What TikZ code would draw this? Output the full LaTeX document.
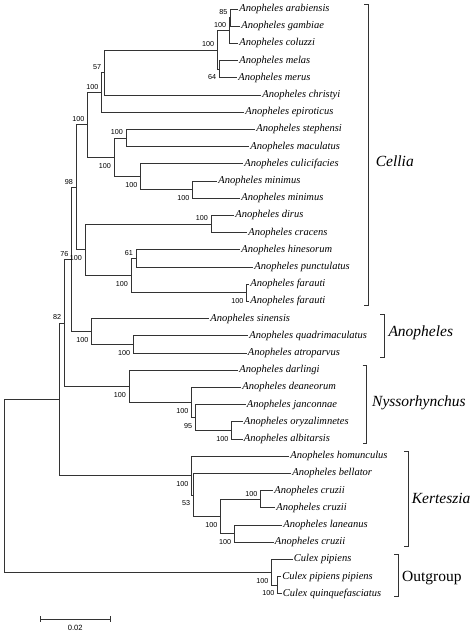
\documentclass[tikz,border=0pt]{standalone}
\usepackage{fontspec}
\setmainfont{Liberation Serif}
\newfontfamily\bootfont{Liberation Sans}
\usepackage{tikz}

\tikzset{
  branch/.style={draw=black!80, line width=0.8pt},
  taxon/.style={anchor=west, inner sep=1.2pt, text height=7pt, text depth=2.2pt, font=\fontsize{10.5}{12}\selectfont\itshape},
  bootup/.style={anchor=east, inner sep=0pt, xshift=-3pt, yshift=5.5pt, font=\bootfont\fontsize{7.2}{8}\selectfont},
  bootdn/.style={anchor=east, inner sep=0pt, xshift=-3pt, yshift=-8.3pt, font=\bootfont\fontsize{7.2}{8}\selectfont},
  clade/.style={draw=black!80, line width=0.8pt},
  cladename/.style={anchor=west, inner sep=0pt, text height=10.5pt, text depth=0pt, font=\fontsize{15.5}{18}\selectfont\itshape}
}

\begin{document}
\begin{tikzpicture}[x=1pt,y=-1pt]
\useasboundingbox (0,0) rectangle (474,635);
\node[taxon] (s1) at (238,9) {Anopheles arabiensis};
\node[taxon] (s2) at (240,26.2) {Anopheles gambiae};
\node[taxon] (s3) at (238,43.4) {Anopheles coluzzi};
\node[taxon] (s4) at (238,60.6) {Anopheles melas};
\node[taxon] (s5) at (237,77.8) {Anopheles merus};
\node[taxon] (s6) at (261,95) {Anopheles christyi};
\node[taxon] (s7) at (244,112.2) {Anopheles epiroticus};
\node[taxon] (s8) at (255,129.4) {Anopheles stephensi};
\node[taxon] (s9) at (249,146.6) {Anopheles maculatus};
\node[taxon] (s10) at (243,163.8) {Anopheles culicifacies};
\node[taxon] (s11) at (217,181) {Anopheles minimus};
\node[taxon] (s12) at (240,198.2) {Anopheles minimus};
\node[taxon] (s13) at (234,215.4) {Anopheles dirus};
\node[taxon] (s14) at (247,232.6) {Anopheles cracens};
\node[taxon] (s15) at (240,249.8) {Anopheles hinesorum};
\node[taxon] (s16) at (253,267) {Anopheles punctulatus};
\node[taxon] (s17) at (249,284.2) {Anopheles farauti};
\node[taxon] (s18) at (249,301.4) {Anopheles farauti};
\node[taxon] (s19) at (209,318.6) {Anopheles sinensis};
\node[taxon] (s20) at (248,335.8) {Anopheles quadrimaculatus};
\node[taxon] (s21) at (246.5,353) {Anopheles atroparvus};
\node[taxon] (s22) at (238,370.2) {Anopheles darlingi};
\node[taxon] (s23) at (241,387.4) {Anopheles deaneorum};
\node[taxon] (s24) at (245.5,404.6) {Anopheles janconnae};
\node[taxon] (s25) at (242.5,421.8) {Anopheles oryzalimnetes};
\node[taxon] (s26) at (242.5,439) {Anopheles albitarsis};
\node[taxon] (s27) at (289,456.2) {Anopheles homunculus};
\node[taxon] (s28) at (291,473.4) {Anopheles bellator};
\node[taxon] (s29) at (273,490.6) {Anopheles cruzii};
\node[taxon] (s30) at (275,507.8) {Anopheles cruzii};
\node[taxon] (s31) at (282,525) {Anopheles laneanus};
\node[taxon] (s32) at (273.5,542.2) {Anopheles cruzii};
\node[taxon] (s33) at (292.5,559.4) {Culex pipiens};
\node[taxon] (s34) at (281,576.6) {Culex pipiens pipiens};
\node[taxon] (s35) at (281.5,593.8) {Culex quinquefasciatus};
\coordinate (gam4) at (230.7,17.6);
\coordinate (gam2) at (229.3,30.5);
\coordinate (gam3) at (219.3,69.2);
\coordinate (gam1) at (217.3,49.9);
\coordinate (cel3) at (104.3,72.4);
\coordinate (cel4) at (101.7,92.3);
\coordinate (cel6) at (126,138);
\coordinate (cel8) at (192.7,189.6);
\coordinate (cel7) at (140.7,176.7);
\coordinate (cel5) at (114,157.4);
\coordinate (cel2) at (87.7,124.8);
\coordinate (cel9) at (211,224);
\coordinate (cel11) at (136,258.4);
\coordinate (cel12) at (246.7,292.8);
\coordinate (cel10) at (131,275.6);
\coordinate (celb) at (85,249.8);
\coordinate (cel1) at (76,187.3);
\coordinate (ano2) at (133.3,344.4);
\coordinate (ano1) at (91.7,331.5);
\coordinate (celano) at (71.7,259.4);
\coordinate (nys4) at (231.7,430.4);
\coordinate (nys3) at (195.3,417.5);
\coordinate (nys2) at (191.7,402.5);
\coordinate (nys1) at (129,386.3);
\coordinate (cny) at (64.3,322.9);
\coordinate (ker5) at (260.7,499.2);
\coordinate (ker4) at (234.3,533.6);
\coordinate (ker3) at (220.7,516.4);
\coordinate (ker2) at (193.3,494.9);
\coordinate (ker1) at (191.7,475.6);
\coordinate (ingroup) at (59.3,399.2);
\coordinate (out2) at (277.7,585.2);
\coordinate (out1) at (271.7,572.3);
\coordinate (root) at (4.7,485.8);
\draw[branch] (gam4) |- (s1.west) (gam4) |- (s2.west);
\draw[branch] (gam2) |- (gam4) (gam2) |- (s3.west);
\draw[branch] (gam3) |- (s4.west) (gam3) |- (s5.west);
\draw[branch] (gam1) |- (gam2) (gam1) |- (gam3);
\draw[branch] (cel3) |- (gam1) (cel3) |- (s6.west);
\draw[branch] (cel4) |- (cel3) (cel4) |- (s7.west);
\draw[branch] (cel6) |- (s8.west) (cel6) |- (s9.west);
\draw[branch] (cel8) |- (s11.west) (cel8) |- (s12.west);
\draw[branch] (cel7) |- (s10.west) (cel7) |- (cel8);
\draw[branch] (cel5) |- (cel6) (cel5) |- (cel7);
\draw[branch] (cel2) |- (cel4) (cel2) |- (cel5);
\draw[branch] (cel9) |- (s13.west) (cel9) |- (s14.west);
\draw[branch] (cel11) |- (s15.west) (cel11) |- (s16.west);
\draw[branch] (cel12) |- (s17.west) (cel12) |- (s18.west);
\draw[branch] (cel10) |- (cel11) (cel10) |- (cel12);
\draw[branch] (celb) |- (cel9) (celb) |- (cel10);
\draw[branch] (cel1) |- (cel2) (cel1) |- (celb);
\draw[branch] (ano2) |- (s20.west) (ano2) |- (s21.west);
\draw[branch] (ano1) |- (s19.west) (ano1) |- (ano2);
\draw[branch] (celano) |- (cel1) (celano) |- (ano1);
\draw[branch] (nys4) |- (s25.west) (nys4) |- (s26.west);
\draw[branch] (nys3) |- (s24.west) (nys3) |- (nys4);
\draw[branch] (nys2) |- (s23.west) (nys2) |- (nys3);
\draw[branch] (nys1) |- (s22.west) (nys1) |- (nys2);
\draw[branch] (cny) |- (celano) (cny) |- (nys1);
\draw[branch] (ker5) |- (s29.west) (ker5) |- (s30.west);
\draw[branch] (ker4) |- (s31.west) (ker4) |- (s32.west);
\draw[branch] (ker3) |- (ker5) (ker3) |- (ker4);
\draw[branch] (ker2) |- (s28.west) (ker2) |- (ker3);
\draw[branch] (ker1) |- (s27.west) (ker1) |- (ker2);
\draw[branch] (ingroup) |- (cny) (ingroup) |- (ker1);
\draw[branch] (out2) |- (s34.west) (out2) |- (s35.west);
\draw[branch] (out1) |- (s33.west) (out1) |- (out2);
\draw[branch] (root) |- (ingroup) (root) |- (out1);
\node[bootup] (b-gam4) at (gam4) {85};
\node[bootup] (b-gam2) at (gam2) {100};
\node[bootdn] (b-gam3) at (gam3) {64};
\node[bootup] (b-gam1) at (gam1) {100};
\node[bootup] (b-cel3) at (cel3) {57};
\node[bootup] (b-cel4) at (cel4) {100};
\node[bootup] (b-cel2) at (cel2) {100};
\node[bootup] (b-cel1) at (cel1) {98};
\node[bootup] (b-cel6) at (cel6) {100};
\node[bootdn] (b-cel5) at (cel5) {100};
\node[bootdn] (b-cel7) at (cel7) {100};
\node[bootdn] (b-cel8) at (cel8) {100};
\node[bootup] (b-cel9) at (cel9) {100};
\node[bootdn] (b-celb) at (celb) {100};
\node[bootup] (b-cel11) at (cel11) {61};
\node[bootdn] (b-cel10) at (cel10) {100};
\node[bootdn] (b-cel12) at (cel12) {100};
\node[bootup] (b-celano) at (celano) {76};
\node[bootdn] (b-ano1) at (ano1) {100};
\node[bootdn] (b-ano2) at (ano2) {100};
\node[bootup] (b-cny) at (cny) {82};
\node[bootdn] (b-nys1) at (nys1) {100};
\node[bootdn] (b-nys2) at (nys2) {100};
\node[bootdn] (b-nys3) at (nys3) {95};
\node[bootdn] (b-nys4) at (nys4) {100};
\node[bootdn] (b-ker1) at (ker1) {100};
\node[bootdn] (b-ker2) at (ker2) {53};
\node[bootup] (b-ker5) at (ker5) {100};
\node[bootdn] (b-ker3) at (ker3) {100};
\node[bootdn] (b-ker4) at (ker4) {100};
\node[bootdn] (b-out1) at (out1) {100};
\node[bootdn] (b-out2) at (out2) {100};
\draw[clade] (364.3,4) -- (368.3,4) -- (368.3,305) -- (364.3,305);
\node[cladename] (cellia) at (375.7,161.7) {Cellia};
\draw[clade] (380,314) -- (384,314) -- (384,357.3) -- (380,357.3);
\node[cladename] (anopheles) at (388.3,331.7) {Anopheles};
\draw[clade] (362.7,365) -- (366.7,365) -- (366.7,443.3) -- (362.7,443.3);
\node[cladename] (nyssorhynchus) at (372,401.7) {Nyssorhynchus};
\draw[clade] (404,451) -- (408.3,451) -- (408.3,546.7) -- (404,546.7);
\node[cladename] (kerteszia) at (411.7,498.3) {Kerteszia};
\draw[clade] (394,554.3) -- (398.3,554.3) -- (398.3,596.7) -- (394,596.7);
\node[cladename] (outgroup) at (402,576.7) {\upshape Outgroup};
\coordinate (sbl) at (40.7,619);
\coordinate (sbr) at (110,619);
\draw[branch] (sbl) -- (sbr) (40.7,616) -- (40.7,622) (110,616) -- (110,622);
\node[font=\bootfont\fontsize{7.6}{9}\selectfont, inner sep=0pt] (sbtext) at (75.3,627.7) {0.02};
\end{tikzpicture}
\end{document}
